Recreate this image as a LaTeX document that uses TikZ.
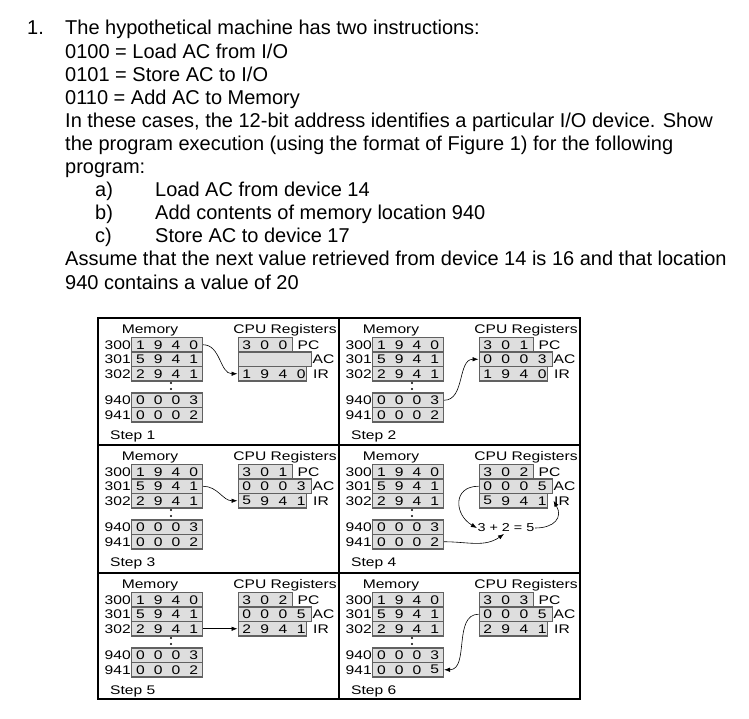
\documentclass[tikz,border=0pt]{standalone}
\usepackage{fontspec}
\setmainfont{Liberation Sans}
\newfontfamily\figfont[FakeStretch=1.25]{Liberation Sans}
\usetikzlibrary{arrows.meta}

\tikzset{
  qtext/.style={anchor=base west, inner sep=0pt, font=\fontsize{20}{23}\selectfont},
  memcell/.style={draw=black!62, line width=1.1pt, fill=black!13, minimum height=14.5pt, inner sep=0pt},
  dig/.style={font=\figfont\fontsize{12.5}{13}\selectfont, inner sep=0pt},
  lab/.style={font=\figfont\fontsize{12.5}{13}\selectfont, inner sep=0.5pt},
  eqlab/.style={font=\figfont\fontsize{11.5}{13}\selectfont, inner sep=0.5pt},
  arr/.style={-{Latex[length=6pt,width=4.5pt]}, line width=0.6pt},
  frameline/.style={line width=1.6pt}
}

\newcommand\memrow[4]{%
  \node[memcell, minimum width=71pt] (#1) at (69,#2) {};
  \node[lab, anchor=east] (#1a) at (33.5,#2) {#3};
  \foreach \dg [count=\k] in {#4}{\node[dig] (#1d\k) at ({33.5+17.75*(\k-0.5)},#2) {\dg};}
}
\newcommand\regrow[4]{%
  \node[memcell, minimum width=#3pt, anchor=west] (#1) at (139.5,#2) {};
  \foreach \dg [count=\k] in {#4}{\node[dig] (#1d\k) at ({139.5+18.2*(\k-0.5)},#2) {\dg};}
}
\newcommand\panel[8]{%
 \begin{scope}[shift={(#2,#3)}]
  \node[lab] (#1mem) at (52,-12) {Memory};
  \node[lab] (#1cpu) at (187,-12) {CPU Registers};
  \memrow{#1m300}{-26.75}{300}{1,9,4,0}
  \memrow{#1m301}{-41.25}{301}{5,9,4,1}
  \memrow{#1m302}{-55.75}{302}{2,9,4,1}
  \fill (73,-65) circle (1.2pt) (73,-71) circle (1.2pt);
  \memrow{#1m940}{-82.25}{940}{0,0,0,3}
  \memrow{#1m941}{-96.75}{941}{#4}
  \regrow{#1pc}{-26.75}{54.5}{#5}
  \regrow{#1ac}{-41.25}{73.5}{#6}
  \regrow{#1ir}{-55.75}{68.5}{#7}
  \node[lab, anchor=west] (#1pcl) at (199,-26.75) {PC};
  \node[lab, anchor=west] (#1acl) at (214,-41.25) {AC};
  \node[lab, anchor=west] (#1irl) at (214.5,-55.75) {IR};
  \node[lab, anchor=west] (#1step) at (11.5,-118) {Step #8};
 \end{scope}}

\begin{document}
\begin{tikzpicture}[x=1pt,y=1pt]
\useasboundingbox (0,0) rectangle (749,-719);
\fill[white] (0,0) rectangle (749,-719);

% question text
\node[qtext] (num) at (27,-35) {1.};
\node[qtext] (l1) at (65,-35) {The hypothetical machine has two instructions:};
\node[qtext] (l2) at (65,-58.1) {0100 = Load AC from I/O};
\node[qtext] (l3) at (65,-81.2) {0101 = Store AC to I/O};
\node[qtext] (l4) at (65,-104.3) {0110 = Add AC to Memory};
\node[qtext] (l5) at (65,-127.4) {In these cases, the 12-bit address identifies a particular I/O device. Show};
\node[qtext] (l6) at (65,-150.5) {the program execution (using the format of Figure 1) for the following};
\node[qtext] (l7) at (65,-173.5) {program:};
\node[qtext] (ia) at (95,-196.6) {a)};
\node[qtext] (ta) at (155,-196.6) {Load AC from device 14};
\node[qtext] (ib) at (95,-219.7) {b)};
\node[qtext] (tb) at (155,-219.7) {Add contents of memory location 940};
\node[qtext] (ic) at (95,-242.8) {c)};
\node[qtext] (tc) at (155,-242.8) {Store AC to device 17};
\node[qtext] (l11) at (65,-265.9) {Assume that the next value retrieved from device 14 is 16 and that location};
\node[qtext] (l12) at (65,-289) {940 contains a value of 20};

% frame
\draw[frameline] (98,-318) rectangle (580,-699);
\draw[frameline] (339,-318) -- (339,-699);
\draw[frameline] (98,-445) -- (580,-445);
\draw[frameline] (98,-573) -- (580,-573);

% panels
\panel{p1}{98}{-318}{0,0,0,2}{3,0,0}{}{1,9,4,0}{1}
\panel{p2}{339}{-318}{0,0,0,2}{3,0,1}{0,0,0,3}{1,9,4,0}{2}
\panel{p3}{98}{-445}{0,0,0,2}{3,0,1}{0,0,0,3}{5,9,4,1}{3}
\panel{p4}{339}{-445}{0,0,0,2}{3,0,2}{0,0,0,5}{5,9,4,1}{4}
\panel{p5}{98}{-573}{0,0,0,2}{3,0,2}{0,0,0,5}{2,9,4,1}{5}
\panel{p6}{339}{-573}{0,0,0,5}{3,0,3}{0,0,0,5}{2,9,4,1}{6}

% arrows
\draw[arr] (p1m300.east) to[out=0,in=180] (p1ir.west);
\draw[arr] (p2m940.east) to[out=0,in=180] (p2ac.west);
\draw[arr] (p3m301.east) to[out=0,in=180] (p3ir.west);
\begin{scope}[shift={(339,-445)}]
  \node[eqlab] (p4eq) at (167,-83) {3 + 2 = 5};
  \coordinate (p4plus) at (165,-89);
\end{scope}
\draw[arr] (p4ac.west) to[out=180,in=150,looseness=1.6] (p4eq.west);
\draw[arr] (p4m941.east) to[out=0,in=215] (p4plus);
\draw[arr] (p4eq.east) to[out=0,in=-60,looseness=1.5] (p4irl.west);
\draw[arr] (p5m302.east) -- (p5ir.west);
\draw[arr] (p6ac.west) to[out=180,in=0] (p6m941.east);
\end{tikzpicture}
\end{document}
